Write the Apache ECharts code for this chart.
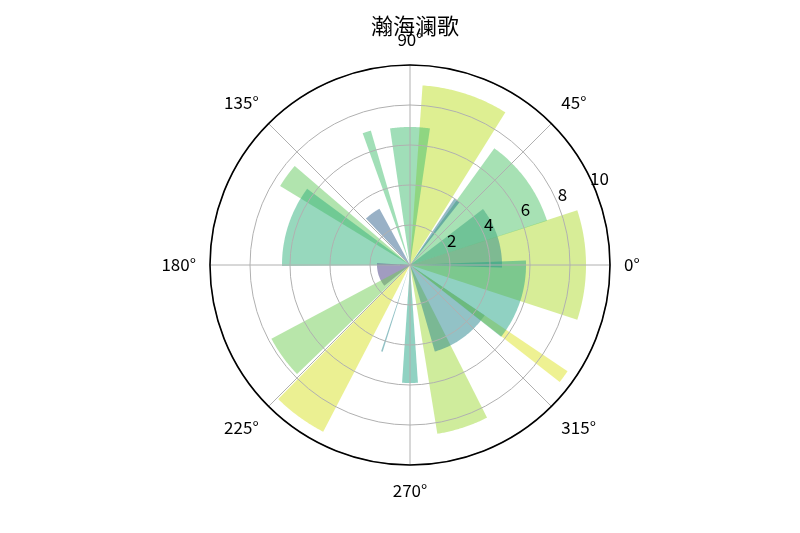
<!DOCTYPE html>
<html><head><meta charset="utf-8">
<script src="https://cdn.jsdelivr.net/npm/echarts@6/dist/echarts.min.js"></script>
<style>html,body{margin:0;padding:0;background:#fff}#c{width:800px;height:533px}</style>
</head><body><div id="c"></div>
<script>
// Bar centres (degrees), radii, widths (degrees)
const thetaDeg = [0, 18, 36, 54, 72, 90, 108, 126, 144, 162, 180, 198, 216, 234, 252, 270, 288, 306, 324, 342];
const radii    = [8.8, 4.6, 7.2, 4.0, 9.0, 6.9, 7.0, 3.2, 7.6, 6.4, 0.5, 1.65, 7.85, 9.4, 4.55, 5.9, 8.55, 4.5, 9.5, 5.8];
const widthDeg = [36.2, 39, 36.3, 4.5, 28, 16.6, 3.5, 15, 9.4, 37, 3, 42, 16, 17, 1, 7.7, 17.6, 40, 4, 40.5];
const angleTicks = [0, 45, 90, 135, 180, 225, 270, 315];
const radiusTicks = [2, 4, 6, 8, 10];
const titleText = '瀚海澜歌';

const viridisStops = ['#440154','#482475','#414487','#355f8d','#2a788e','#21918c','#22a884','#44bf70','#7ad151','#bddf26','#fde725'];
function hex2rgb(h){return [parseInt(h.substr(1,2),16),parseInt(h.substr(3,2),16),parseInt(h.substr(5,2),16)];}
function viridis(t){
  t = Math.max(0, Math.min(1, t));
  const p = t * 10, i = Math.min(9, Math.floor(p)), f = p - i;
  const a = hex2rgb(viridisStops[i]), b = hex2rgb(viridisStops[i+1]);
  return a.map((v,k)=>Math.round(v + (b[k]-v)*f));
}
const FONT = 'Noto Sans CJK SC';
const data = thetaDeg.map((t,i)=>[radii[i], t, widthDeg[i]]);

function renderItem(params, api){
  const r = api.value(0), th = api.value(1), w = api.value(2);
  const pts = [api.coord([0, th])];
  const n = 48;
  for (let k=0;k<=n;k++){ pts.push(api.coord([r, th - w/2 + w*k/n])); }
  const c = viridis(r/10);
  return {type:'polygon', shape:{points:pts}, style:{fill:'rgba('+c.join(',')+',0.5)', stroke:null}};
}

const chart = echarts.init(document.getElementById('c'));
chart.setOption({
  animation:false,
  title:{text:titleText, left:366, top:10, textStyle:{fontFamily:FONT, fontSize:22, fontWeight:'normal', color:'#000'}},
  polar:[
    {center:[410,265], radius:200},
    {center:[410,265], radius:208}
  ],
  angleAxis:[
    {polarIndex:0, type:'value', min:0, max:360, interval:45, startAngle:0, clockwise:false,
     axisLine:{show:true, lineStyle:{color:'#000', width:1.6}},
     axisTick:{show:false},
     axisLabel:{show:true, margin:14, color:'#000', fontFamily:FONT, fontSize:17, padding:[3,0,3,0],
       formatter:function(v){return angleTicks.indexOf(v)>=0 ? v+'°' : '';}},
     splitLine:{show:true, lineStyle:{color:'#b0b0b0', width:1}}},
    {polarIndex:1, type:'value', min:0, max:360, startAngle:22.5, clockwise:false, show:false}
  ],
  radiusAxis:[
    {polarIndex:0, type:'value', min:0, max:10, interval:2,
     axisLine:{show:false}, axisTick:{show:false}, axisLabel:{show:false},
     splitLine:{show:true, lineStyle:{color:'#b0b0b0', width:1}}},
    {polarIndex:1, type:'value', min:-0.4, max:10,
     axisLine:{show:false}, axisTick:{show:false}, splitLine:{show:false},
     axisLabel:{show:true, margin:7, color:'#000', fontFamily:FONT, fontSize:17,
       align:'center', verticalAlign:'middle',
       formatter:function(v){return radiusTicks.indexOf(v)>=0 ? String(v) : '';}}}
  ],
  series:[{
    type:'custom', coordinateSystem:'polar', polarIndex:0, z:-1,
    encode:{radius:0, angle:1},
    renderItem:renderItem, data:data
  }]
});
</script>
</body></html>
